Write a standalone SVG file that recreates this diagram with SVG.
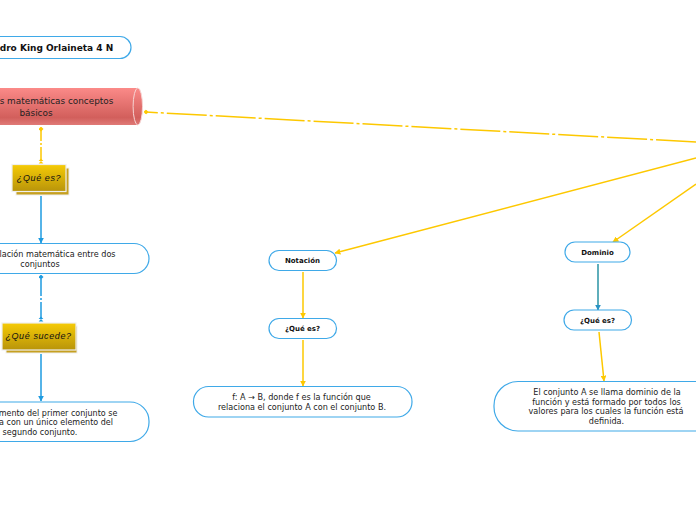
<svg xmlns="http://www.w3.org/2000/svg" width="696" height="520" viewBox="0 0 696 520">
<style>
text{font-family:"DejaVu Sans",Verdana,sans-serif;font-size:8.1px;fill:#222;text-anchor:middle}
.b{font-weight:bold;font-size:7px;fill:#111}
.m{font-size:8.9px}
.h{font-style:italic;font-size:9px;fill:#111;font-family:"Liberation Sans",sans-serif;letter-spacing:.6px}
.n{fill:#fff;stroke:#3fa9e8;stroke-width:1.2}
.y{fill:none;stroke:#fdc800;stroke-width:1.5}
.t{fill:none;stroke:#1e9be0;stroke-width:1.5}
.s{fill:#c6a021;stroke:#efefef;stroke-width:1}
.g{fill:url(#gold);stroke:#efefef;stroke-width:1.2}
</style>
<defs>
<linearGradient id="gold" x1="0" y1="0" x2="0" y2="1"><stop offset="0" stop-color="#f6cb06"/><stop offset="1" stop-color="#b8940a"/></linearGradient>
<linearGradient id="red" x1="0" y1="0" x2="0" y2="1"><stop offset="0" stop-color="#fb8a88"/><stop offset="0.8" stop-color="#d25f5c"/><stop offset="1" stop-color="#e07a77"/></linearGradient>
<marker id="ay" viewBox="0 0 10 10" refX="9" refY="5" markerWidth="6" markerHeight="6" markerUnits="userSpaceOnUse" orient="auto"><path d="M0 0L10 5L0 10Z" fill="#fdc800"/></marker>
<marker id="at" viewBox="0 0 10 10" refX="9" refY="5" markerWidth="6" markerHeight="6" markerUnits="userSpaceOnUse" orient="auto"><path d="M0 0L10 5L0 10Z" fill="#1e9be0"/></marker>
<marker id="ag" viewBox="0 0 10 10" refX="9" refY="5" markerWidth="6" markerHeight="6" markerUnits="userSpaceOnUse" orient="auto"><path d="M0 0L10 5L0 10Z" fill="#2a93c4"/></marker>
<marker id="dy" viewBox="0 0 10 10" refX="5" refY="5" markerWidth="5" markerHeight="5" markerUnits="userSpaceOnUse" orient="auto"><path d="M0 5L5 0L10 5L5 10Z" fill="#fdc800"/></marker>
<marker id="dt" viewBox="0 0 10 10" refX="5" refY="5" markerWidth="5" markerHeight="5" markerUnits="userSpaceOnUse" orient="auto"><path d="M0 5L5 0L10 5L5 10Z" fill="#1e9be0"/></marker>
<marker id="2y" viewBox="0 0 10 10" refX="5" refY="5" markerWidth="6" markerHeight="6" markerUnits="userSpaceOnUse" orient="auto"><path d="M1 1L5 5L1 9ZM5 1L9 5L5 9Z" fill="#fdc800"/></marker>
<marker id="2t" viewBox="0 0 10 10" refX="5" refY="5" markerWidth="6" markerHeight="6" markerUnits="userSpaceOnUse" orient="auto"><path d="M1 1L5 5L1 9ZM5 1L9 5L5 9Z" fill="#1e9be0"/></marker>
</defs>
<g id="connectors">
<path class="y" d="M696 142L146 112" stroke-dasharray="40 3 3 3" marker-end="url(#dy)"/>
<path class="y" d="M41 161L41 129" stroke-dasharray="14 2 2 2" marker-start="url(#2y)" marker-end="url(#dy)"/>
<path class="t" d="M41 196L41 243" marker-end="url(#at)"/>
<path class="t" d="M41 319L41 277" stroke-dasharray="17 2 2 2" marker-start="url(#2t)" marker-end="url(#dt)"/>
<path class="t" d="M41 354L41 401" marker-end="url(#at)"/>
<path class="y" d="M696 158L335 253" marker-end="url(#ay)"/>
<path class="y" d="M303 272L303 318" marker-end="url(#ay)"/>
<path class="y" d="M303 340L303 386" marker-end="url(#ay)"/>
<path class="y" d="M696 184L613 242" marker-end="url(#ay)"/>
<path d="M598 264L598 310" fill="none" stroke="#2a93a4" stroke-width="1.5" marker-end="url(#ag)"/>
<path class="y" d="M599 332L604 381" marker-end="url(#ay)"/>
</g>
<g id="node-title"><rect class="n" x="-60" y="36.500" width="191" height="22" rx="11"/><text class="b" x="56.500" y="51" style="font-size:9px">dro King Orlaineta 4 N</text></g>
<g id="node-main">
<path d="M-40 88H138V125H-40Z" fill="url(#red)"/>
<ellipse cx="137.800" cy="106.500" rx="4.700" ry="18.500" fill="url(#red)" stroke="#f6d5d4" stroke-width="1"/>
<text class="m" x="56.500" y="104">s matemáticas conceptos</text><text class="m" x="36" y="116">básicos</text></g>
<g id="node-que-es-1"><rect class="s" x="16" y="168" width="53" height="27"/><rect class="g" x="12" y="164.500" width="54" height="27"/><text class="h" x="39" y="181">¿Qué es?</text></g>
<g id="node-relacion"><rect class="n" x="-70" y="243.500" width="219" height="30" rx="15"/><text x="57.500" y="257">lación matemática entre dos</text><text x="40" y="267">conjuntos</text></g>
<g id="node-que-sucede"><rect class="s" x="6" y="326" width="71" height="27"/><rect class="g" x="2" y="323" width="74" height="27"/><text class="h" x="38.500" y="339">¿Qué sucede?</text></g>
<g id="node-elemento"><rect class="n" x="-70" y="402" width="219" height="39.500" rx="19"/><text x="58" y="416" style="font-size:8px">mento del primer conjunto se</text><text x="56" y="425" style="font-size:8px">a con un único elemento del</text><text x="40" y="435">segundo conjunto.</text></g>
<g id="node-notacion"><rect class="n" x="269" y="250.500" width="67.500" height="20" rx="10"/><text class="b" x="302.500" y="263">Notación</text></g>
<g id="node-que-es-2"><rect class="n" x="269" y="318.500" width="67.500" height="20" rx="10"/><text class="b" x="302.500" y="331">¿Qué es?</text></g>
<g id="node-f"><rect class="n" x="193.500" y="386.500" width="218.500" height="30.500" rx="15"/><text x="301.500" y="400">f: A → B, donde f es la función que</text><text x="302" y="410">relaciona el conjunto A con el conjunto B.</text></g>
<g id="node-dominio"><rect class="n" x="565" y="242" width="65" height="20" rx="10"/><text class="b" x="597.500" y="255">Dominio</text></g>
<g id="node-que-es-3"><rect class="n" x="564" y="310" width="67.500" height="20" rx="10"/><text class="b" x="597.500" y="323">¿Qué es?</text></g>
<g id="node-conjunto"><rect class="n" x="494" y="381.500" width="260" height="49.500" rx="24"/><text x="607" y="395">El conjunto A se llama dominio de la</text><text x="606.500" y="405">función y está formado por todos los</text><text x="606" y="414">valores para los cuales la función está</text><text x="606.500" y="424">definida.</text></g>
</svg>
